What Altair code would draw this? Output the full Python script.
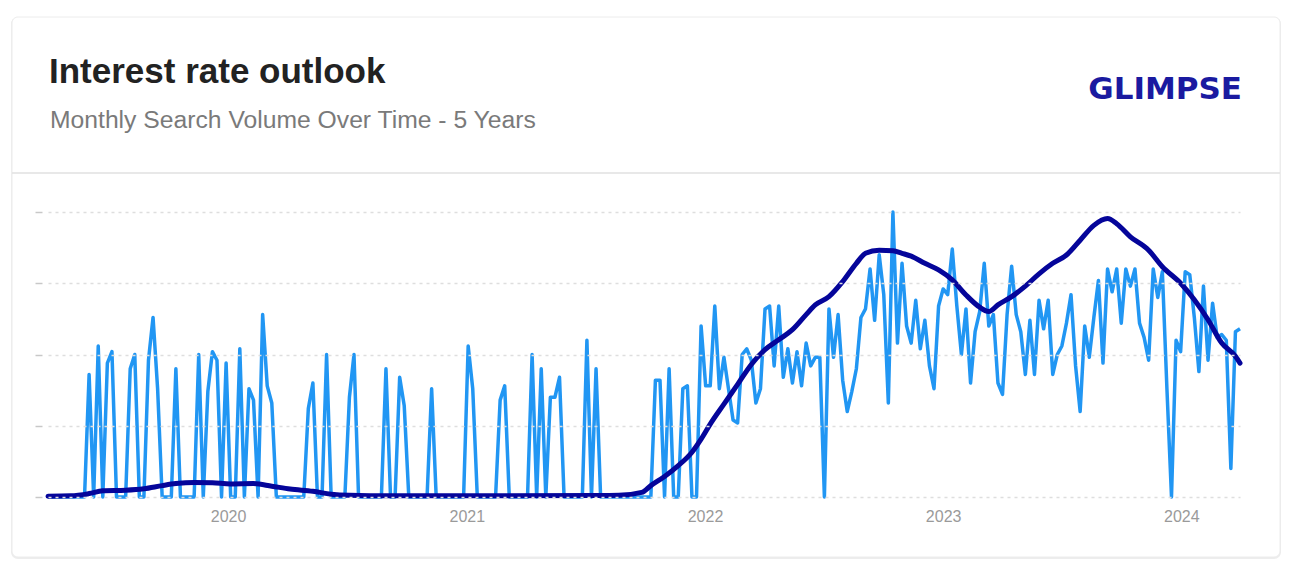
import altair as alt
import pandas as pd

title = "Interest rate outlook"
subtitle = "Monthly Search Volume Over Time - 5 Years"
logo = "GLIMPSE"

start_date = "2019-03-31"

weekly_values = [
    0, 0, 0, 0, 0, 0, 0, 0, 0, 43,
    0, 53, 0, 47, 51, 0, 0, 0, 45, 50,
    0, 0, 48, 63, 38, 0, 0, 0, 45, 0,
    0, 0, 0, 50, 0, 37, 51, 48, 0, 47,
    0, 0, 52, 0, 38, 34, 0, 64, 39, 33,
    0, 0, 0, 0, 0, 0, 0, 31, 40, 0,
    0, 50, 0, 0, 0, 0, 35, 50, 0, 0,
    0, 0, 0, 0, 45, 0, 0, 42, 32, 0,
    0, 0, 0, 0, 38, 0, 0, 0, 0, 0,
    0, 0, 53, 38, 0, 0, 0, 0, 0, 34,
    39, 0, 0, 0, 0, 0, 50, 0, 45, 0,
    35, 35, 42, 0, 0, 0, 0, 0, 55, 0,
    45, 0, 0, 0, 0, 0, 0, 0, 0, 0,
    0, 0, 0, 41, 41, 0, 45, 0, 0, 38,
    39, 0, 0, 60, 39, 39, 67, 38, 49, 38,
    27, 26, 50, 52, 48, 33, 38, 66, 67, 46,
    67, 42, 52, 40, 51, 39, 54, 46, 49, 49,
    0, 66, 49, 64, 41, 30, 37, 45, 63, 66,
    80, 62, 85, 71, 33, 100, 54, 82, 60, 54,
    69, 52, 62, 46, 38, 67, 73, 71, 87, 67,
    50, 66, 40, 58, 65, 82, 60, 64, 40, 36,
    64, 81, 64, 58, 43, 62, 43, 69, 59, 69,
    43, 50, 53, 61, 71, 46, 30, 60, 49, 63,
    76, 47, 80, 72, 80, 61, 80, 74, 80, 61,
    56, 48, 80, 70, 79, 38, 0, 55, 51, 79,
    78, 63, 44, 74, 48, 68, 56, 57, 55, 10,
    58, 59,
]

trend_weeks = [0, 5, 9, 12, 17, 21, 25, 28, 32, 36, 40, 45, 49, 53, 58, 62, 66,
               75, 100, 120, 125, 130, 132, 135, 138, 141, 143, 145, 148, 151,
               154, 157, 160, 163, 166, 168, 171, 174, 177, 179, 182, 185, 187,
               189, 192, 195, 198, 201, 204, 206, 208, 211, 214, 217, 220, 223,
               226, 229, 232, 234, 237, 241, 244, 248, 251, 254, 257, 260, 261]
trend_values = [0.3, 0.4, 1.2, 2.2, 2.4, 2.9, 4.0, 4.7, 5.1, 5.0, 4.6, 4.7, 3.8,
                2.8, 2.0, 1.0, 0.6, 0.4, 0.4, 0.5, 0.6, 1.6, 4.0, 7.2, 11.0,
                15.7, 20.3, 25.6, 32.6, 39.5, 46.5, 51.7, 55.2, 58.7, 64.0,
                67.4, 70.3, 75.6, 82.0, 85.5, 86.6, 86.4, 85.5, 84.5, 82.0,
                79.7, 76.2, 70.9, 66.6, 65.1, 67.4, 70.3, 74.0, 78.3, 82.0,
                84.9, 90.1, 95.3, 97.7, 95.9, 91.3, 86.6, 80.8, 75.0, 69.2,
                62.2, 54.0, 49.4, 47.0]

year_ticks = [2020, 2021, 2022, 2023, 2024]

start = pd.Timestamp(start_date)
weekly = pd.DataFrame({
    "date": [start + pd.Timedelta(days=7 * i) for i in range(len(weekly_values))],
    "value": weekly_values,
})
trend = pd.DataFrame({
    "date": [start + pd.Timedelta(days=7 * w) for w in trend_weeks],
    "value": trend_values,
})

W, H = 1192, 285
FONT = "Liberation Sans, Arial, Helvetica, sans-serif"

x_scale = alt.Scale(domain=[start.isoformat(), weekly["date"].iloc[-1].isoformat()], nice=False)
y_scale = alt.Scale(domain=[0, 100], nice=False)

dummy = pd.DataFrame({"k": [0]})

shadow = alt.Chart(dummy).mark_rect(fill="#ededed", cornerRadius=7).encode(
    x=alt.value(-37), x2=alt.value(1233), y=alt.value(-195), y2=alt.value(347)
)
card = alt.Chart(dummy).mark_rect(fill="white", stroke="#ececec", strokeWidth=1, cornerRadius=6).encode(
    x=alt.value(-36), x2=alt.value(1232), y=alt.value(-195), y2=alt.value(345)
)
separator = alt.Chart(dummy).mark_rule(color="#e0e0e0", strokeWidth=1.5).encode(
    x=alt.value(-36), x2=alt.value(1232), y=alt.value(-39)
)

title_mark = alt.Chart(pd.DataFrame({"t": [title]})).mark_text(
    align="left", baseline="alphabetic", font=FONT, fontSize=35, fontWeight="bold", color="#222222"
).encode(text="t:N", x=alt.value(1), y=alt.value(-129))

subtitle_mark = alt.Chart(pd.DataFrame({"t": [subtitle]})).mark_text(
    align="left", baseline="alphabetic", font=FONT, fontSize=24.7, color="#7a7a7a"
).encode(text="t:N", x=alt.value(2), y=alt.value(-84))

logo_mark = alt.Chart(pd.DataFrame({"t": [logo]})).mark_text(
    align="right", baseline="alphabetic", font="DejaVu Sans", fontSize=31, fontWeight="bold", color="#1a1aa0"
).encode(text="t:N", x=alt.value(1194), y=alt.value(-113))

weekly_line = alt.Chart(weekly).mark_line(color="#2196f3", strokeWidth=3.5, strokeJoin="round").encode(
    x=alt.X("date:T", scale=x_scale, title=None,
            axis=alt.Axis(values=[alt.DateTime(year=y, month=1, date=1) for y in year_ticks],
                          format="%Y", grid=False, ticks=False, domain=False, zindex=1,
                          labelColor="#9a9a9a", labelFont=FONT, labelFontSize=16,
                          labelPadding=11, labelBaseline="top")),
    y=alt.Y("value:Q", scale=y_scale, title=None,
            axis=alt.Axis(values=[0, 25, 50, 75, 100], labels=False, domain=False, zindex=1,
                          ticks=True, tickSize=7, tickColor="#c8c8c8", tickWidth=1.5, offset=6,
                          grid=True, gridColor="#dedede", gridDash=[3, 4], gridWidth=1.3)),
)

trend_line = alt.Chart(trend).mark_line(color="#05059a", strokeWidth=5, interpolate="monotone",
                                         strokeCap="round").encode(
    x=alt.X("date:T", scale=x_scale),
    y=alt.Y("value:Q", scale=y_scale),
)

chart = alt.layer(
    shadow, card, separator, title_mark, subtitle_mark, logo_mark, weekly_line, trend_line
).properties(
    width=W, height=H,
    autosize=alt.AutoSizeParams(type="none"),
    padding={"left": 40, "top": 204, "right": 44, "bottom": 62},
).configure_view(stroke=None).configure(background="white")

chart.save("out.html", embed_options={"renderer": "svg", "actions": False})
